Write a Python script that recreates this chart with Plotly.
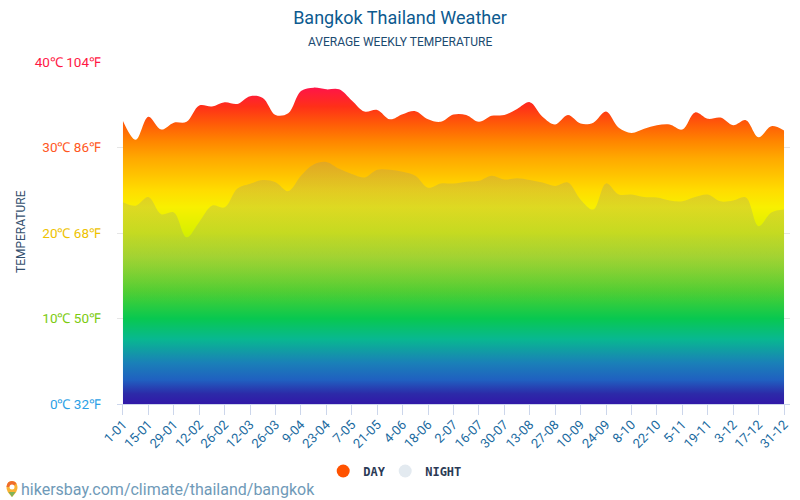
import plotly.graph_objects as go

# weekly labels, one per point
weeks = ["1-01", "8-01", "15-01", "22-01", "29-01", "5-02", "12-02", "19-02", "26-02",
         "5-03", "12-03", "19-03", "26-03", "2-04", "9-04", "16-04", "23-04", "30-04",
         "7-05", "14-05", "21-05", "28-05", "4-06", "11-06", "18-06", "25-06", "2-07",
         "9-07", "16-07", "23-07", "30-07", "6-08", "13-08", "20-08", "27-08", "3-09",
         "10-09", "17-09", "24-09", "1-10", "8-10", "15-10", "22-10", "29-10", "5-11",
         "12-11", "19-11", "26-11", "3-12", "10-12", "17-12", "24-12", "31-12"]

day_temp = [33.1, 30.9, 33.6, 32.1, 32.9, 33.0, 34.9, 34.8, 35.3, 35.1, 36.0, 35.8, 33.8,
            34.0, 36.6, 37.0, 36.8, 36.8, 35.5, 34.2, 34.4, 33.3, 33.9, 34.25, 33.3, 33.0,
            33.85, 33.8, 33.0, 33.7, 33.8, 34.5, 35.3, 33.6, 32.7, 33.8, 32.8, 32.9, 34.2,
            32.3, 31.7, 32.2, 32.6, 32.7, 32.1, 34.1, 33.35, 33.5, 32.6, 33.2, 31.2, 32.5, 32.0]

night_temp = [23.6, 23.2, 24.2, 22.2, 22.4, 19.5, 21.3, 23.2, 23.0, 25.2, 25.75, 26.2, 25.95,
              24.9, 26.7, 28.0, 28.3, 27.5, 26.9, 26.5, 27.4, 27.4, 27.15, 26.7, 25.3, 25.8,
              25.8, 26.0, 26.1, 26.7, 26.25, 26.4, 26.2, 25.9, 25.5, 25.9, 23.9, 22.75, 25.8,
              24.5, 24.5, 24.2, 24.15, 23.8, 23.7, 24.2, 24.5, 23.7, 23.8, 24.15, 20.8, 22.4, 22.75]

y_ticks = [0, 10, 20, 30, 40]
y_labels = ["0℃ 32℉", "10℃ 50℉", "20℃ 68℉", "30℃ 86℉", "40℃ 104℉"]
y_label_colors = ["#2b9fe6", "#7ccb10", "#eec200", "#ff5722", "#ff1744"]

# temperature colour scale, 0 to 40 degrees
day_colors = [
    [0.0, "#3118a8"],
    [0.03, "#2c2aa8"],
    [0.07, "#2060c0"],
    [0.12, "#1a80b8"],
    [0.19, "#08b890"],
    [0.25, "#08c850"],
    [0.33, "#50d030"],
    [0.43, "#a8e020"],
    [0.50, "#d8f000"],
    [0.575, "#f8f000"],
    [0.625, "#ffdc00"],
    [0.72, "#ffa800"],
    [0.77, "#ff8400"],
    [0.82, "#ff5a08"],
    [0.87, "#ff2f18"],
    [0.92, "#ff1744"],
    [1.0, "#ff1744"],
]
night_colors = [
    [0.0, "rgba(130,140,150,0)"],
    [0.30, "rgba(130,140,150,0)"],
    [0.48, "rgba(130,140,150,0.22)"],
    [1.0, "rgba(130,140,150,0.25)"],
]

fig = go.Figure()

fig.add_trace(go.Scatter(
    x=weeks, y=day_temp, mode="lines", fill="tozeroy",
    line=dict(shape="spline", width=0, color="rgba(0,0,0,0)"),
    fillgradient=dict(type="vertical", colorscale=day_colors, start=0, stop=40),
    showlegend=False, name="DAY"
))
fig.add_trace(go.Scatter(
    x=weeks, y=night_temp, mode="lines", fill="tozeroy",
    line=dict(shape="spline", width=0, color="rgba(0,0,0,0)"),
    fillgradient=dict(type="vertical", colorscale=night_colors, start=0, stop=40),
    showlegend=False, name="NIGHT"
))

# empty traces only for the round legend markers, one legend each so the gap can be set
fig.add_trace(go.Scatter(x=[None], y=[None], mode="markers", name="DAY", legend="legend",
                         marker=dict(color="#ff5200", size=13)))
fig.add_trace(go.Scatter(x=[None], y=[None], mode="markers", name="NIGHT", legend="legend2",
                         marker=dict(color="#e3eaf0", size=13)))

fig.update_xaxes(
    type="category", categoryorder="array", categoryarray=weeks,
    range=[-0.47, 52.47], automargin=False,
    tickmode="array", tickvals=weeks[::2], ticktext=weeks[::2],
    tickangle=-45, ticks="outside", ticklen=10, tickcolor="#ccd6eb", tickwidth=1,
    ticklabelstandoff=-3,
    showline=True, linecolor="#ccd6eb", linewidth=1, showgrid=False, zeroline=False,
    tickfont=dict(family="Roboto", size=13, color="#1a6aa0")
)
fig.update_yaxes(
    range=[0, 40], tickmode="array", tickvals=y_ticks, automargin=False,
    ticktext=[f'<span style="color:{c}">{t}</span>' for t, c in zip(y_labels, y_label_colors)],
    ticks="", ticklabelstandoff=15, showgrid=True, gridcolor="#e6e6e6", gridwidth=1,
    zeroline=False, showline=False,
    tickfont=dict(family="Roboto", size=13.5)
)


# pin icon next to the site link, pixel positions turned into paper fractions
def px(x):
    return (x - 117) / 673


def py(y):
    return (404 - y) / 342


pin_path = (f"M {px(12)} {py(497)} Q {px(6)} {py(491)} {px(6.5)} {py(487)} "
            f"Q {px(7)} {py(481)} {px(12)} {py(481)} Q {px(17)} {py(481)} {px(17.5)} {py(487)} "
            f"Q {px(18)} {py(491)} {px(12)} {py(497)} Z")
pin_top = (f"M {px(6.5)} {py(487)} Q {px(7)} {py(481)} {px(12)} {py(481)} "
           f"Q {px(15)} {py(481)} {px(16.5)} {py(483.5)} L {px(12)} {py(487)} Z")
pin_tail = f"M {px(12)} {py(497)} L {px(8.5)} {py(492)} L {px(15.5)} {py(492)} Z"

legend_font = dict(family="DejaVu Sans Mono", size=12, color="#2b3a55", weight="bold")

fig.update_layout(
    width=800, height=500,
    paper_bgcolor="white", plot_bgcolor="white",
    margin=dict(l=117, r=10, t=62, b=96),
    title=dict(text="Bangkok Thailand Weather", x=0.5, xanchor="center", y=0.965, yanchor="middle",
               font=dict(family="Roboto", size=18, color="#0d5a8f")),
    legend=dict(orientation="h", x=0.404, xanchor="left", xref="container", y=0.058, yref="container",
                yanchor="middle", itemclick=False, font=legend_font),
    legend2=dict(orientation="h", x=0.4815, xanchor="left", xref="container", y=0.058, yref="container",
                 yanchor="middle", itemclick=False, font=legend_font),
    shapes=[
        dict(type="path", xref="paper", yref="paper", path=pin_path,
             fillcolor="#f9b233", line=dict(width=0)),
        dict(type="path", xref="paper", yref="paper", path=pin_top,
             fillcolor="#ef6c2c", line=dict(width=0)),
        dict(type="path", xref="paper", yref="paper", path=pin_tail,
             fillcolor="#7fb35a", line=dict(width=0)),
        dict(type="circle", xref="paper", yref="paper", x0=px(9.5), x1=px(14.5), y0=py(489.5), y1=py(484.5),
             fillcolor="white", line=dict(width=0)),
    ],
    annotations=[
        dict(text="AVERAGE WEEKLY TEMPERATURE", xref="paper", yref="paper", x=px(400), y=py(42),
             xanchor="center", yanchor="middle", showarrow=False,
             font=dict(family="Roboto", size=12, color="#1b4a70")),
        dict(text="TEMPERATURE", xref="paper", yref="paper", x=px(21), y=py(232), textangle=-90,
             xanchor="center", yanchor="middle", showarrow=False,
             font=dict(family="Roboto", size=12, color="#34506e")),
        dict(text="hikersbay.com/climate/thailand/bangkok", xref="paper", yref="paper",
             x=px(19), y=py(489), xanchor="left", yanchor="middle", showarrow=False,
             font=dict(family="Roboto", size=16, color="#6f9ab8")),
    ],
)

fig.write_html("out.html", config=dict(displayModeBar=False),
               post_script="document.body.style.margin='0';")
